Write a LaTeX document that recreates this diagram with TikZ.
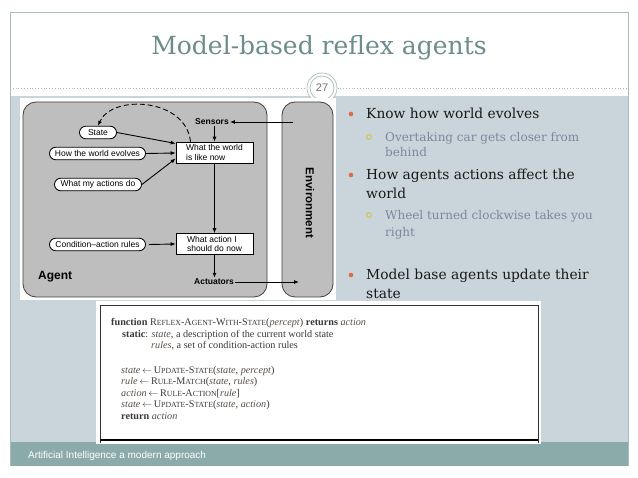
\documentclass[tikz,border=0pt]{standalone}
\usepackage{fontspec}
\setmainfont{Liberation Serif}
\setsansfont{Liberation Sans}
\newfontfamily\titlefont{DejaVu Serif}
\usetikzlibrary{shapes.misc,arrows.meta,calc}
\definecolor{bandc}{HTML}{CAD4DB}
\definecolor{footc}{HTML}{8AABA9}
\definecolor{framec}{HTML}{A7BDBD}
\definecolor{titlec}{HTML}{6E8C8C}
\definecolor{dotc}{HTML}{E06A4A}
\definecolor{ringc}{HTML}{D4C24A}
\definecolor{subc}{HTML}{7E869C}
\definecolor{agentc}{HTML}{BEBEBE}
\definecolor{codec}{HTML}{3A3A3A}
\definecolor{codei}{HTML}{5A5048}
\newcommand{\smc}[1]{{\fontsize{7.8}{9}\selectfont #1}}
\newcommand{\vi}[1]{{\color{codei}\textit{#1}}}
\begin{document}
\begin{tikzpicture}[x=1pt,y=-1pt,
  pill/.style={draw=black, line width=0.8pt, fill=white, rounded rectangle, minimum height=12.5, inner sep=1.5, font=\sffamily\fontsize{8.5}{9.5}\selectfont},
  wbox/.style={draw=black, line width=0.6pt, fill=white, minimum width=77, minimum height=21, align=left, inner sep=1.5, font=\sffamily\fontsize{8.5}{9.5}\selectfont},
  lbl/.style={font=\sffamily\bfseries\fontsize{8.5}{9.5}\selectfont, inner sep=1},
  arr/.style={-{Latex[length=5pt,width=4pt]}, line width=0.9pt, black},
  bul/.style={anchor=base west, inner sep=0, font=\titlefont\fontsize{13.8}{17}\selectfont, text=black!90},
  sbul/.style={anchor=base west, inner sep=0, font=\titlefont\fontsize{12}{15}\selectfont, text=subc},
  code/.style={anchor=base west, inner sep=0, font=\fontsize{10.2}{11}\selectfont, text=codec}
]
\useasboundingbox (0,0) rectangle (638,478);
\fill[white] (0,0) rectangle (638,478);
% slide frame
\fill[bandc] (10,96) rectangle (628,442);
\fill[footc] (10,442) rectangle (628,466);
\draw[framec, line width=0.8pt] (10,466) -- (10,12) -- (628,12) -- (628,466);
\draw[framec, line width=0.8pt, dotted] (10,88) -- (628,88);
\node[font=\titlefont\fontsize{25}{30}\selectfont, text=titlec] (title) at (319,48) {Model-based reflex agents};
\node[circle, draw=framec, fill=white, line width=0.7pt, minimum size=30, inner sep=0] (pgo) at (322,88) {};
\node[circle, draw=framec, line width=0.7pt, minimum size=24, inner sep=0, font=\sffamily\fontsize{11}{12}\selectfont, text=black!55] (pg) at (322,88) {27};
\node[anchor=west, font=\sffamily\fontsize{10}{12}\selectfont, text=white, inner sep=0] (foot) at (28,456) {Artificial Intelligence a modern approach};

% agent diagram
\fill[white] (20,98) rectangle (336,300);
\draw[fill=agentc, draw=black!75, line width=0.8pt, rounded corners=13] (23,102) rectangle (267,297);
\draw[fill=agentc, draw=black!75, line width=0.8pt, rounded corners=13] (282,102) rectangle (333,297);
\node[font=\sffamily\bfseries\fontsize{12}{14}\selectfont, anchor=west, inner sep=0] (agent) at (38,277) {Agent};
\node[font=\sffamily\bfseries\fontsize{11.5}{13}\selectfont, rotate=-90, inner sep=0] (env) at (310,203) {Environment};
\coordinate (envin) at (293,122);
\coordinate (envout) at (299,282);
\node[lbl] (sensors) at (212,122) {Sensors};
\node[lbl] (actuators) at (214,282) {Actuators};
\node[pill, minimum width=40] (state) at (98,132.5) {State};
\node[pill, minimum width=99] (evolve) at (97.5,153.5) {How the world evolves};
\node[pill, minimum width=90] (actdo) at (98,184.5) {What my actions do};
\node[pill, minimum width=99] (rules) at (97.5,244.5) {Condition--action rules};
\node[wbox] (world) at (214.5,152.5) {What the world\\is like now};
\node[wbox] (action) at (214.5,244) {What action I\\should do now};
\draw[arr] (envin) -- (sensors.east);
\draw[arr] (sensors.south -| world.north) -- (world.north);
\draw[arr] (state.east) -- ([yshift=9]world.west);
\draw[arr] (evolve.east) -- ([yshift=-0.5]world.west);
\draw[arr] (actdo.east) -- ([yshift=-6]world.west);
\draw[arr] (world.south) -- (action.north);
\draw[arr] ([xshift=3]rules.east) -- (action.west);
\draw[arr] (action.south) -- (actuators.north -| action.south);
\draw[arr] (actuators.east) -- (envout);
\draw[arr, dashed, dash pattern=on 5pt off 3pt] ([xshift=-24]world.north) .. controls (186,98) and (112,94) .. (state.north);

% bullets
\fill[dotc] (351,114) circle (2.3);
\node[bul] (b1) at (366,119) {Know how world evolves};
\draw[ringc, line width=1pt] (369,137) circle (2.4);
\node[sbul] (s1a) at (385,141.5) {Overtaking car gets closer from};
\node[sbul] (s1b) at (385,157) {behind};
\fill[dotc] (351,175) circle (2.3);
\node[bul] (b2a) at (366,180) {How agents actions affect the};
\node[bul] (b2b) at (366,198.5) {world};
\draw[ringc, line width=1pt] (369,215) circle (2.4);
\node[sbul] (s2a) at (385,219.5) {Wheel turned clockwise takes you};
\node[sbul] (s2b) at (385,236.5) {right};
\fill[dotc] (351,275) circle (2.3);
\node[bul] (b3a) at (366,280) {Model base agents update their};
\node[bul] (b3b) at (366,298.5) {state};

% code box
\fill[white] (96,301) rectangle (541,444);
\draw[black!80, line width=0.8pt] (100,443.5) -- (100,305) -- (538,305) -- (538,443.5);
\draw[black, line width=1.8pt] (100,440) -- (538,440);
\node[code] (c1) at (111,325.5) {\textbf{function} R\smc{EFLEX}-A\smc{GENT}-W\smc{ITH}-S\smc{TATE}(\vi{percept}) \textbf{returns} \vi{action}};
\node[code] (c2) at (122,337.5) {\textbf{static}: \vi{state}, a description of the current world state};
\node[code] (c3) at (151,349) {\vi{rules}, a set of condition-action rules};
\node[code] (c4) at (121,373.5) {\vi{state}\,$\leftarrow$\,U\smc{PDATE}-S\smc{TATE}(\vi{state}, \vi{percept})};
\node[code] (c5) at (121,385) {\vi{rule}\,$\leftarrow$\,R\smc{ULE}-M\smc{ATCH}(\vi{state}, \vi{rules})};
\node[code] (c6) at (121,396.5) {\vi{action}\,$\leftarrow$\,R\smc{ULE}-A\smc{CTION}[\vi{rule}]};
\node[code] (c7) at (121,408) {\vi{state}\,$\leftarrow$\,U\smc{PDATE}-S\smc{TATE}(\vi{state}, \vi{action})};
\node[code] (c8) at (121,419.5) {\textbf{return} \vi{action}};
\end{tikzpicture}
\end{document}
